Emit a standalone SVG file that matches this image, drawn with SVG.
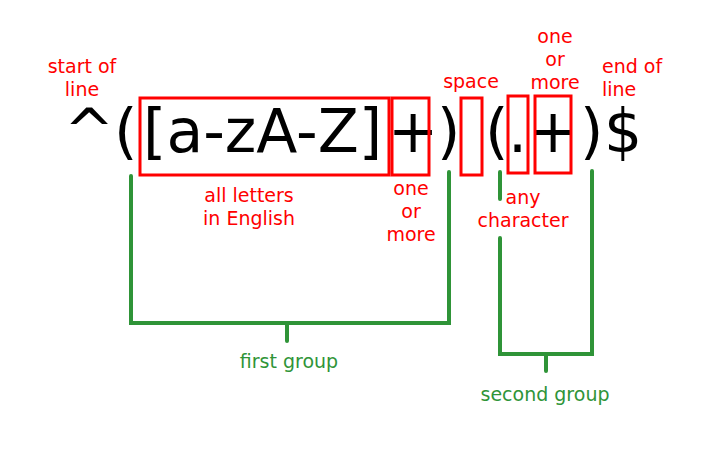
<svg xmlns="http://www.w3.org/2000/svg" width="711" height="451" viewBox="0 0 711 451">
<style>
.re{font-family:"DejaVu Sans",Verdana,sans-serif;font-size:60px;fill:#000}
.lbl{font-family:"DejaVu Sans",Verdana,sans-serif;font-size:19px;fill:#ff0000;text-anchor:middle}
.glbl{font-family:"DejaVu Sans",Verdana,sans-serif;font-size:19px;fill:#2f9438;text-anchor:middle}
.box{fill:none;stroke:#ff0000;stroke-width:3}
.br{fill:none;stroke:#2f9438;stroke-width:4;stroke-linecap:round}
</style>
<rect width="711" height="451" fill="#fff"/>
<g id="regex">
<text class="re" x="64" y="152">^</text>
<text class="re" x="114" y="152">(</text>
<text class="re" x="143" y="152">[a-zA-Z]</text>
<text class="re" x="388" y="152">+</text>
<text class="re" x="437" y="152">)</text>
<text class="re" x="485" y="152">(</text>
<text class="re" x="508" y="152">.</text>
<text class="re" x="528" y="152">+</text>
<text class="re" x="580" y="152">)</text>
<text class="re" x="604" y="152">$</text>
</g>
<g id="node-start">
<text class="lbl" x="82" y="73">start of</text>
<text class="lbl" x="82" y="96">line</text>
</g>
<g id="node-letters">
<rect class="box" x="140" y="98" width="249" height="77"/>
<text class="lbl" x="249" y="202">all letters</text>
<text class="lbl" x="249" y="225">in English</text>
</g>
<g id="node-plus1">
<rect class="box" x="392" y="98" width="37" height="77"/>
<text class="lbl" x="411" y="195">one</text>
<text class="lbl" x="411" y="218">or</text>
<text class="lbl" x="411" y="241">more</text>
</g>
<g id="node-space">
<rect class="box" x="461" y="98" width="21" height="77"/>
<text class="lbl" x="471" y="88">space</text>
</g>
<g id="node-dot">
<rect class="box" x="508" y="96" width="20" height="77"/>
<text class="lbl" x="523" y="204">any</text>
<text class="lbl" x="523" y="227">character</text>
</g>
<g id="node-plus2">
<rect class="box" x="535" y="96" width="36" height="77"/>
<text class="lbl" x="555" y="43">one</text>
<text class="lbl" x="555" y="66">or</text>
<text class="lbl" x="555" y="89">more</text>
</g>
<g id="node-end">
<text class="lbl" x="602" y="73" style="text-anchor:start">end of</text>
<text class="lbl" x="602" y="96" style="text-anchor:start">line</text>
</g>
<g id="connectors">
<path class="br" d="M131 176 V323 H449 V172 M287 323 V341"/>
<path class="br" d="M500 172 V199 M500 238 V354 H592 V171 M546 354 V371"/>
</g>
<g id="node-group1">
<text class="glbl" x="289" y="368">first group</text>
</g>
<g id="node-group2">
<text class="glbl" x="545" y="401">second group</text>
</g>
</svg>
